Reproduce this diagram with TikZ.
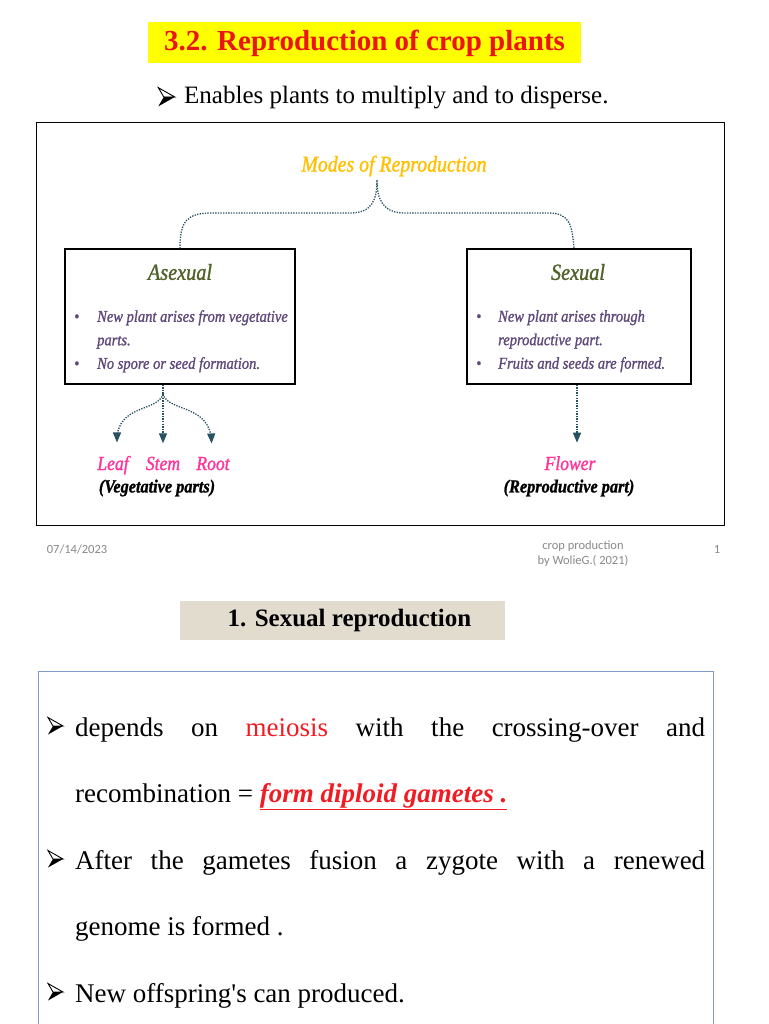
\documentclass[tikz,border=0pt]{standalone}
\usepackage{fontspec}
\setmainfont{Liberation Serif}
\newfontfamily\slidesans{Carlito}
\newfontfamily\diagfont[FakeStretch=0.88, FakeBold=1.2]{Liberation Serif}
\usepackage{tikz}
\usetikzlibrary{arrows}
\definecolor{titlered}{RGB}{236,20,24}
\definecolor{titleyellow}{RGB}{255,255,0}
\definecolor{modesgold}{RGB}{255,192,0}
\definecolor{headgreen}{RGB}{79,98,40}
\definecolor{bulletpurple}{RGB}{95,73,122}
\definecolor{partpink}{RGB}{255,51,153}
\definecolor{linkteal}{RGB}{38,82,98}
\definecolor{footgray}{RGB}{137,137,137}
\definecolor{paperbeige}{RGB}{226,220,207}
\definecolor{frameblue}{RGB}{126,155,204}
\definecolor{meiored}{RGB}{240,28,36}
\newcommand{\fsz}[2]{\fontsize{#1}{#2}\selectfont}

\begin{document}
\begin{tikzpicture}[x=1pt, y=-1pt,
	dotlink/.style={linkteal, line width=1.3pt, dash pattern=on 1.3pt off 1.3pt, >=triangle 45},
	modebox/.style={draw, line width=1.2pt, inner sep=0pt, minimum width=230pt, minimum height=135pt},
	head/.style={headgreen, font=\diagfont\fsz{23}{26}\itshape},
	part/.style={partpink, anchor=base, font=\diagfont\fsz{20}{24}\itshape},
	partnote/.style={font=\diagfont\fsz{18.5}{22}\bfseries\itshape},
	bullets/.style={bulletpurple, font=\diagfont\fsz{16.5}{23.5}\itshape, align=left, anchor=north west, inner sep=0pt},
	foot/.style={footgray, font=\slidesans\fsz{12.5}{15}, align=center},
	pointer/.pic={
		\draw[line width=0.9pt, line join=miter] (-7,-8.5) -- (8,0) -- (-2,0) -- cycle;
		\fill (-7,8.5) -- (8,0) -- (-2,0) -- cycle;
	},
	bodyline/.style={anchor=base west, inner sep=0pt, font=\fsz{27}{32}}]
	
	\path[use as bounding box, fill=white] (0,0) rectangle (768,1024);
	
	\node (title) [fill=titleyellow, inner sep=0pt, minimum width=433pt, minimum height=41pt, text=titlered, font=\fsz{29}{34}\bfseries] at (364.5,43) {3.2. Reproduction of crop plants};
	\pic (enpt) [scale=1.1] at (166,97) {pointer};
	\node (enables) [anchor=west, inner sep=0pt, font=\fsz{25}{30}] at (184,98) {Enables plants to multiply and to disperse.};
	
	\node (frame) [draw, line width=0.8pt, inner sep=0pt, minimum width=688pt, minimum height=403pt] at (380,323.5) {};
	\node (modes) [modesgold, font=\diagfont\fsz{22.5}{26}\itshape] at (394,166) {Modes of Reproduction};
	
	\node (asex) [modebox] at (180,316.5) {};
	\node (sex) [modebox, minimum width=224pt] at (579,316.5) {};
	\node (asexhead) [head] at (180,272) {Asexual};
	\node (sexhead) [head] at (578,272) {Sexual};
	\node (asexlist) [bullets] at (74,310) {\makebox[23pt][l]{\textbullet}New plant arises from vegetative\\ \hspace*{23pt}parts.\\ \makebox[23pt][l]{\textbullet}No spore or seed formation.};
	\node (sexlist) [bullets] at (476,310) {\makebox[22pt][l]{\textbullet}New plant arises through\\ \hspace*{22pt}reproductive part.\\ \makebox[22pt][l]{\textbullet}Fruits and seeds are formed.};
	
	\coordinate (peak) at (377,180);
	\draw[dotlink] (asex.north) .. controls (180,222) and (186,213) .. (212,213) -- (350,213) .. controls (372,213) and (377,200) .. (peak);
	\draw[dotlink] (peak) .. controls (377,200) and (383,213) .. (405,213) -- (548,213) .. controls (570,213) and (572,225) .. ([xshift=-5pt]sex.north);
	
	\node (leaf) [part] at (113,470) {Leaf};
	\node (stem) [part] at (163,470) {Stem};
	\node (root) [part] at (213,470) {Root};
	\node (vegnote) [partnote] at (157,488) {(Vegetative parts)};
	\node (flower) [part] at (570,470) {Flower};
	\node (repnote) [partnote] at (569,488) {(Reproductive part)};
	
	\coordinate (fork) at (163,394);
	\draw[dotlink, ->, shorten >=10pt] (asex.south -| stem) -- (stem.north);
	\draw[dotlink, ->, shorten >=10pt] (fork) .. controls (158,412) and (117,404) .. ([xshift=4pt]leaf.north);
	\draw[dotlink, ->, shorten >=10pt] (fork) .. controls (168,412) and (210,404) .. ([xshift=-1pt]root.north);
	\draw[dotlink, ->, shorten >=10pt] ([xshift=-2pt]sex.south) -- ([xshift=-2pt]sex.south |- flower.north);
	
	\node (date) [foot] at (77,549) {07/14/2023};
	\node (credit) [foot] at (583,554) {crop production\\by WolieG.( 2021)};
	\node (slideno) [foot] at (717,549) {1};
	
	\node (sexrep) [fill=paperbeige, inner sep=0pt, minimum width=325pt, minimum height=39pt, font=\fsz{25}{30}\bfseries] at (342.5,620.5) {\hspace*{14pt}1. Sexual reproduction};
	\draw[frameblue, line width=1pt] (38,1040) -- (38,671) -- (713,671) -- (713,1040);
	
	\pic (pt1) at (55,726) {pointer};
	\node (line1) [bodyline] at (75,736) {\makebox[630pt][s]{depends on \textcolor{meiored}{meiosis} with the crossing-over and}};
	\node (line2) [bodyline] at (75,802) {recombination = \textcolor{meiored}{\underline{\bfseries\itshape form diploid gametes .}}};
	\pic (pt2) at (55,859) {pointer};
	\node (line3) [bodyline] at (75,869) {\makebox[630pt][s]{After the gametes fusion a zygote with a renewed}};
	\node (line4) [bodyline] at (75,935) {genome is formed .};
	\pic (pt3) at (55,992) {pointer};
	\node (line5) [bodyline] at (75,1002) {New offspring\textquotesingle s can produced.};
	
\end{tikzpicture}
\end{document}
